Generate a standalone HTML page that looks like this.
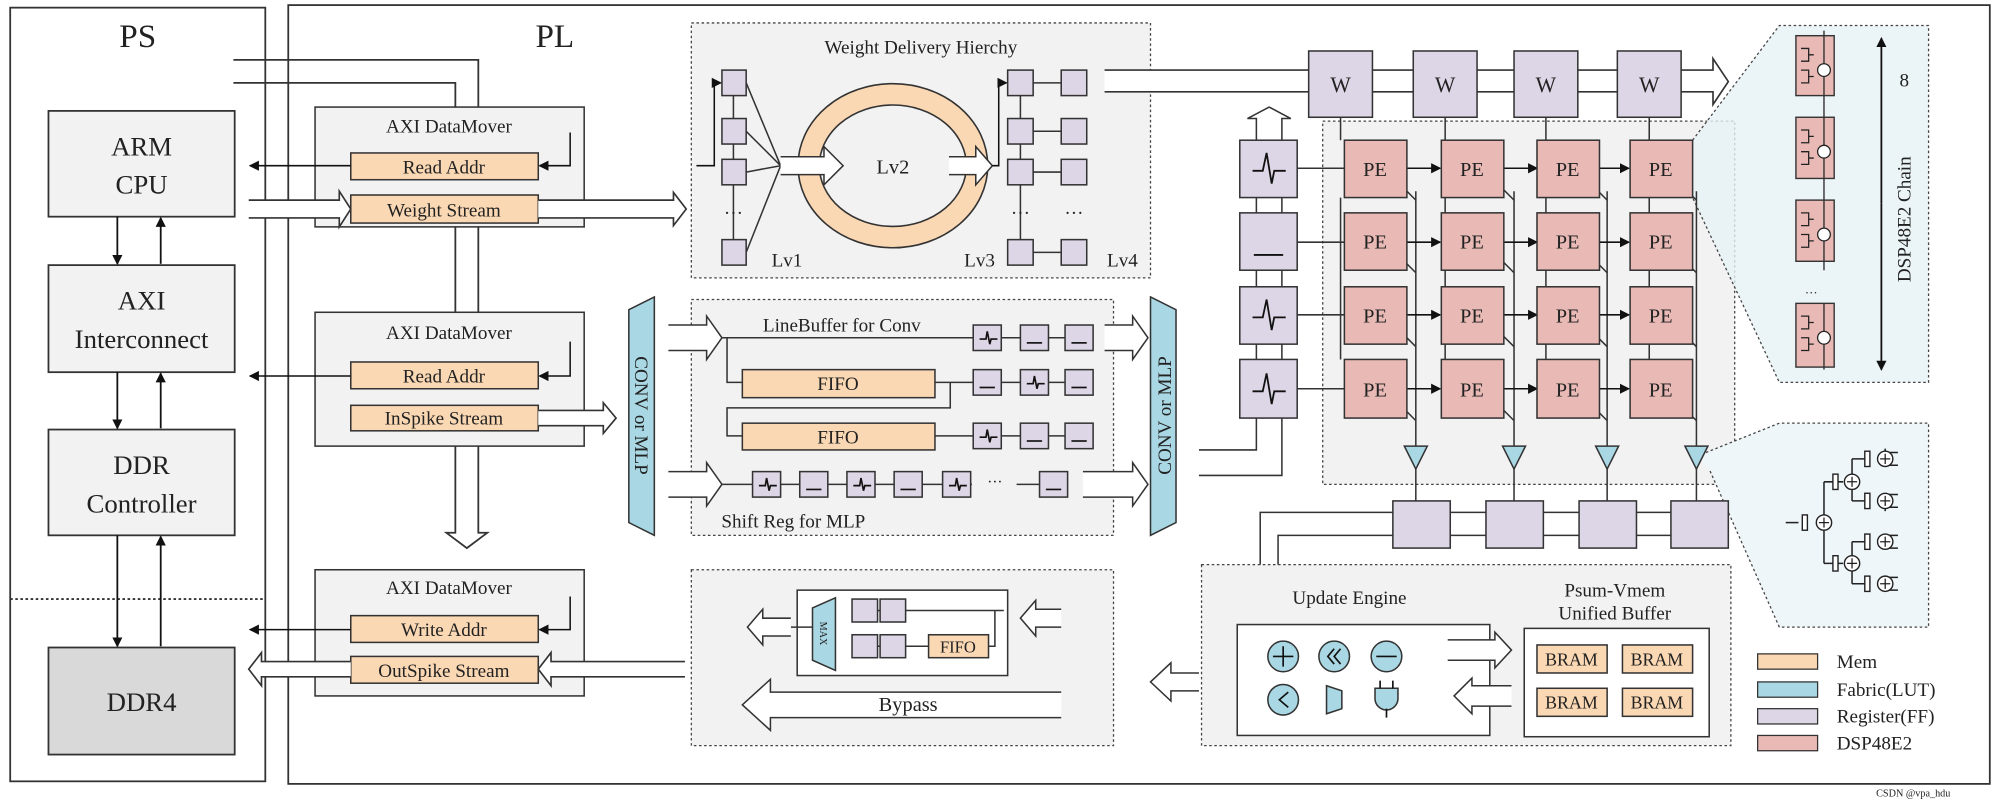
<!DOCTYPE html>
<html><head><meta charset="utf-8"><style>
html,body{margin:0;padding:0;background:#fff;width:2000px;height:803px;overflow:hidden}
svg{display:block}
text{font-family:"Liberation Serif",serif;fill:#222}
</style></head><body>
<svg width="2000" height="803" viewBox="0 0 1568 630" preserveAspectRatio="none" xmlns="http://www.w3.org/2000/svg">
<defs>
<marker id="ah" markerWidth="8" markerHeight="8" refX="7" refY="4" orient="auto" markerUnits="userSpaceOnUse"><path d="M0,0 L8,4 L0,8 z" fill="#111"/></marker>
</defs>
<g stroke="#333" stroke-width="1.4" fill="none">
<!-- PS / PL -->
<rect x="8" y="6" width="200" height="607"/>
<rect x="226" y="4" width="1334" height="611"/>
<line x1="8" y1="470" x2="208" y2="470" stroke-dasharray="2,2"/>
</g>
<text x="108" y="37" font-size="26" text-anchor="middle">PS</text>
<text x="435" y="37" font-size="26" text-anchor="middle">PL</text>

<!-- PS blocks -->
<g stroke="#333" stroke-width="1.4">
<rect x="38" y="87" width="146" height="83" fill="#f2f2f2"/>
<rect x="38" y="208" width="146" height="84" fill="#f2f2f2"/>
<rect x="38" y="337" width="146" height="83" fill="#f2f2f2"/>
<rect x="38" y="508" width="146" height="84" fill="#d9d9d9"/>
</g>
<g font-size="21" text-anchor="middle">
<text x="111" y="122">ARM</text><text x="111" y="152">CPU</text>
<text x="111" y="243">AXI</text><text x="111" y="273">Interconnect</text>
<text x="111" y="372">DDR</text><text x="111" y="402">Controller</text>
<text x="111" y="558">DDR4</text>
</g>
<g stroke="#111" stroke-width="1.4" marker-end="url(#ah)">
<line x1="92" y1="170" x2="92" y2="207"/><line x1="126" y1="207" x2="126" y2="171"/>
<line x1="92" y1="292" x2="92" y2="336"/><line x1="126" y1="336" x2="126" y2="293"/>
<line x1="92" y1="420" x2="92" y2="507"/><line x1="126" y1="507" x2="126" y2="421"/>
</g>

<!-- bus lines top -->
<g stroke="#333" stroke-width="1.4" fill="none">
<polyline points="183,47 375,47 375,84"/>
<polyline points="183,65 357,65 357,84"/>
<line x1="357" y1="178" x2="357" y2="245"/><line x1="375" y1="178" x2="375" y2="245"/>
<polyline points="357,350 357,418 350,418 366,430 382,418 375,418 375,350" fill="#fff"/>
</g>

<!-- DataMovers -->
<g stroke="#333" stroke-width="1.2">
<rect x="247" y="84" width="211" height="94" fill="#f2f2f2"/>
<rect x="247" y="245" width="211" height="105" fill="#f2f2f2"/>
<rect x="247" y="447" width="211" height="99" fill="#f2f2f2"/>
<g fill="#fbd8b4">
<rect x="275" y="120" width="147" height="21"/><rect x="275" y="153" width="147" height="22"/>
<rect x="275" y="284" width="147" height="21"/><rect x="275" y="318" width="147" height="20"/>
<rect x="275" y="483" width="147" height="21"/><rect x="275" y="515" width="147" height="21"/>
</g></g>
<g font-size="15" text-anchor="middle">
<text x="352" y="104">AXI DataMover</text><text x="352" y="266">AXI DataMover</text><text x="352" y="466">AXI DataMover</text>
<text x="348" y="136">Read Addr</text><text x="348" y="170">Weight Stream</text>
<text x="348" y="300">Read Addr</text><text x="348" y="333">InSpike Stream</text>
<text x="348" y="499">Write Addr</text><text x="348" y="531">OutSpike Stream</text>
</g>
<g stroke="#111" stroke-width="1.2" fill="none" marker-end="url(#ah)">
<line x1="275" y1="130" x2="196" y2="130"/><polyline points="447,104 447,130 423,130"/>
<line x1="275" y1="295" x2="196" y2="295"/><polyline points="447,268 447,295 423,295"/>
<line x1="275" y1="494" x2="196" y2="494"/><polyline points="447,468 447,494 423,494"/>
</g>
<!-- hollow arrows -->
<g stroke="#333" stroke-width="1.3" fill="#fff">
<polyline points="195,157 266,157 266,150 275,164 266,178 266,171 195,171"/>
<polyline points="422,157 528,157 528,151 538,164 528,177 528,171 422,171"/>
<polyline points="422,322 473,322 473,316 483,328 473,340 473,334 422,334"/>
<polyline points="537,519 432,519 432,512 422,525 432,538 432,531 537,531"/>
<polyline points="275,519 205,519 205,512 195,525 205,538 205,531 275,531"/>
</g>

<!-- Weight Delivery -->
<rect x="542" y="18" width="360" height="200" fill="#f2f2f2" stroke="#444" stroke-width="1" stroke-dasharray="2,2"/>
<text x="722" y="42" font-size="15" text-anchor="middle">Weight Delivery Hierchy</text>
<ellipse cx="700" cy="130" rx="66" ry="56" fill="none" stroke="#333" stroke-width="18"/>
<ellipse cx="700" cy="130" rx="66" ry="56" fill="none" stroke="#fbd8b4" stroke-width="15.5"/>
<text x="700" y="136" font-size="16" text-anchor="middle">Lv2</text>
<g stroke="#333" stroke-width="1.2">
<line x1="575" y1="65" x2="575" y2="198"/>
<line x1="585" y1="65" x2="612" y2="130"/><line x1="585" y1="103" x2="612" y2="130"/><line x1="585" y1="135" x2="612" y2="130"/><line x1="585" y1="198" x2="612" y2="130"/>
<line x1="800" y1="65" x2="800" y2="198"/>
<line x1="810" y1="65" x2="832" y2="65"/><line x1="810" y1="103" x2="832" y2="103"/><line x1="810" y1="135" x2="832" y2="135"/><line x1="810" y1="198" x2="832" y2="198"/>
<g fill="#ddd6e6">
<rect x="566" y="55" width="19" height="20"/><rect x="566" y="93" width="19" height="20"/><rect x="566" y="125" width="19" height="20"/><rect x="566" y="188" width="19" height="20"/>
<rect x="790" y="55" width="20" height="20"/><rect x="790" y="93" width="20" height="20"/><rect x="790" y="125" width="20" height="20"/><rect x="790" y="188" width="20" height="20"/>
<rect x="832" y="55" width="20" height="20"/><rect x="832" y="93" width="20" height="20"/><rect x="832" y="125" width="20" height="20"/><rect x="832" y="188" width="20" height="20"/>
</g>
<polyline points="612,123 646,123 646,115 661,130 646,145 646,137 612,137" fill="#fff"/>
<polyline points="744,123 765,123 765,115 778,130 765,145 765,137 744,137" fill="#fff"/>
</g>
<g stroke="#111" stroke-width="1.2" fill="none" marker-end="url(#ah)">
<polyline points="546,130 560,130 560,65 565,65"/>
<polyline points="778,130 783,130 783,65 789,65"/>
</g>
<g font-size="15" text-anchor="middle">
<text x="575" y="172">···</text><text x="800" y="172">···</text><text x="842" y="172">···</text>
<text x="617" y="209">Lv1</text><text x="768" y="209">Lv3</text><text x="880" y="209">Lv4</text>
</g>

<!-- W row bus -->
<polyline points="866,55 1343,55 1343,46 1355,64 1343,82 1343,72 866,72" fill="#fff" stroke="#333" stroke-width="1.3"/>
<g stroke="#333" stroke-width="1.2" fill="#ddd6e6">
<rect x="1026" y="40" width="50" height="52"/><rect x="1108" y="40" width="50" height="52"/><rect x="1187" y="40" width="50" height="52"/><rect x="1268" y="40" width="50" height="52"/>
</g>
<g font-size="17" text-anchor="middle"><text x="1051" y="72">W</text><text x="1133" y="72">W</text><text x="1212" y="72">W</text><text x="1293" y="72">W</text></g>

<!-- CONV or MLP trapezoids -->
<g stroke="#333" stroke-width="1.2" fill="#a9d8e4">
<polygon points="493,243 513,233 513,420 493,410"/>
<polygon points="902,233 922,243 922,410 902,420"/>
<polygon points="555,463 575,455 575,580 555,572"/>
<polygon points="838,455 858,463 858,572 838,580"/>
</g>
<text transform="translate(498,326) rotate(90)" font-size="15" text-anchor="middle">CONV or MLP</text>
<text transform="translate(918,326) rotate(-90)" font-size="15" text-anchor="middle">CONV or MLP</text>
<text transform="translate(560,517) rotate(90)" font-size="15" text-anchor="middle">Maxpool En?</text>
<text transform="translate(853,517) rotate(-90)" font-size="15" text-anchor="middle">Maxpool En?</text>

<!-- LineBuffer -->
<rect x="542" y="235" width="331" height="185" fill="#f2f2f2" stroke="#444" stroke-width="1" stroke-dasharray="2,2"/>
<text x="660" y="260" font-size="15" text-anchor="middle">LineBuffer for Conv</text>
<text x="622" y="414" font-size="15" text-anchor="middle">Shift Reg for MLP</text>
<g stroke="#333" stroke-width="1.2" fill="none">
<line x1="564" y1="265" x2="763" y2="265"/>
<polyline points="570,265 570,300 582,300"/>
<line x1="733" y1="300" x2="763" y2="300"/>
<polyline points="745,300 745,320 570,320 570,342 582,342"/>
<line x1="733" y1="342" x2="763" y2="342"/>
<line x1="785" y1="265" x2="835" y2="265"/><line x1="785" y1="300" x2="835" y2="300"/><line x1="785" y1="342" x2="835" y2="342"/>
<line x1="564" y1="380" x2="762" y2="380"/><line x1="797" y1="380" x2="815" y2="380"/>
<polyline points="524,255 554,255 554,248 566,265 554,282 554,275 524,275" fill="#fff"/>
<polyline points="524,370 554,370 554,363 566,380 554,397 554,390 524,390" fill="#fff"/>
<polyline points="866,255 888,255 888,248 900,265 888,282 888,275 866,275" fill="#fff"/>
<polyline points="849,370 888,370 888,363 900,380 888,397 888,390 849,390" fill="#fff"/>
</g>
<g stroke="#333" stroke-width="1.2">
<rect x="582" y="290" width="151" height="22" fill="#fbd8b4"/><rect x="582" y="332" width="151" height="21" fill="#fbd8b4"/>
<g fill="#ddd6e6">
<rect x="763" y="255" width="22" height="20"/><rect x="800" y="255" width="22" height="20"/><rect x="835" y="255" width="22" height="20"/>
<rect x="763" y="290" width="22" height="20"/><rect x="800" y="290" width="22" height="20"/><rect x="835" y="290" width="22" height="20"/>
<rect x="763" y="332" width="22" height="20"/><rect x="800" y="332" width="22" height="20"/><rect x="835" y="332" width="22" height="20"/>
<rect x="590" y="370" width="22" height="20"/><rect x="627" y="370" width="22" height="20"/><rect x="664" y="370" width="22" height="20"/><rect x="701" y="370" width="22" height="20"/><rect x="739" y="370" width="22" height="20"/><rect x="815" y="370" width="22" height="20"/>
</g></g>
<g font-size="15" text-anchor="middle"><text x="657" y="306">FIFO</text><text x="657" y="348">FIFO</text><text x="780" y="382" font-size="12">···</text></g>
<g stroke="#111" stroke-width="1.3" fill="none">
<path d="M768,266 h5 l1,-6 l2,10 l1,-4 h5"/><line x1="805" y1="269" x2="817" y2="269"/><line x1="840" y1="269" x2="852" y2="269"/>
<line x1="768" y1="304" x2="780" y2="304"/><path d="M805,301 h5 l1,-6 l2,10 l1,-4 h5"/><line x1="840" y1="304" x2="852" y2="304"/>
<path d="M768,343 h5 l1,-6 l2,10 l1,-4 h5"/><line x1="805" y1="346" x2="817" y2="346"/><line x1="840" y1="346" x2="852" y2="346"/>
<path d="M595,381 h5 l1,-6 l2,10 l1,-4 h5"/><line x1="632" y1="384" x2="644" y2="384"/><path d="M669,381 h5 l1,-6 l2,10 l1,-4 h5"/><line x1="706" y1="384" x2="718" y2="384"/><path d="M744,381 h5 l1,-6 l2,10 l1,-4 h5"/><line x1="820" y1="384" x2="832" y2="384"/>
</g>

<!-- Maxpool -->
<rect x="542" y="447" width="331" height="138" fill="#f2f2f2" stroke="#444" stroke-width="1" stroke-dasharray="2,2"/>
<rect x="625" y="463" width="165" height="67" fill="#fff" stroke="#333" stroke-width="1.2"/>
<g stroke="#333" stroke-width="1.2">
<line x1="620" y1="492" x2="637" y2="492"/>
<line x1="710" y1="479" x2="787" y2="479"/><polyline points="775,507 780,507 780,479" fill="none"/>
<line x1="688" y1="479" x2="690" y2="479"/><line x1="688" y1="507" x2="690" y2="507"/><line x1="710" y1="507" x2="728" y2="507"/>
<polygon points="637,477 655,469 655,526 637,518" fill="#a9d8e4"/>
<g fill="#ddd6e6"><rect x="668" y="470" width="20" height="18"/><rect x="690" y="470" width="20" height="18"/><rect x="668" y="498" width="20" height="18"/><rect x="690" y="498" width="20" height="18"/></g>
<rect x="728" y="498" width="47" height="18" fill="#fbd8b4"/>
<polyline points="620,485 598,485 598,478 586,492 598,506 598,499 620,499" fill="#fff"/>
<polyline points="832,478 812,478 812,471 800,485 812,499 812,492 832,492" fill="#fff"/>
<polyline points="832,543 604,543 604,533 582,553 604,573 604,563 832,563" fill="#fff"/>
<polyline points="940,528 918,528 918,520 902,535 918,550 918,542 940,542" fill="#fff"/>
</g>
<text transform="translate(643,497) rotate(90)" font-size="8" text-anchor="middle">MAX</text>
<text x="751" y="512" font-size="13" text-anchor="middle">FIFO</text>
<text x="712" y="558" font-size="16" text-anchor="middle">Bypass</text>

<!-- PE array -->
<rect x="1037" y="95" width="323" height="285" fill="#f2f2f2" stroke="#444" stroke-width="1" stroke-dasharray="2,2"/>
<polygon points="1327,110 1395,20 1512,20 1512,300 1395,300 1327,155" fill="#e6f1f5" opacity="0.8"/>
<polyline points="1327,110 1395,20 1512,20 1512,300 1395,300 1327,155" fill="none" stroke="#444" stroke-width="1" stroke-dasharray="2,2"/>
<polygon points="1330,358 1395,332 1512,332 1512,492 1395,492 1340,368" fill="#eef6f9"/>
<polyline points="1330,358 1395,332 1512,332 1512,492 1395,492 1340,368" fill="none" stroke="#444" stroke-width="1" stroke-dasharray="2,2"/>
<g stroke="#333" stroke-width="1.2" fill="none">
<line x1="1051" y1="92" x2="1051" y2="110"/><line x1="1133" y1="92" x2="1133" y2="110"/><line x1="1212" y1="92" x2="1212" y2="110"/><line x1="1293" y1="92" x2="1293" y2="110"/>
<line x1="1051" y1="155" x2="1051" y2="282"/><line x1="1133" y1="155" x2="1133" y2="282"/><line x1="1212" y1="155" x2="1212" y2="282"/><line x1="1293" y1="155" x2="1293" y2="282"/>
<line x1="1017" y1="132" x2="1054" y2="132"/><line x1="1017" y1="190" x2="1054" y2="190"/><line x1="1017" y1="247" x2="1054" y2="247"/><line x1="1017" y1="305" x2="1054" y2="305"/>
<line x1="985" y1="155" x2="985" y2="167"/><line x1="1005" y1="155" x2="1005" y2="167"/><line x1="985" y1="212" x2="985" y2="225"/><line x1="1005" y1="212" x2="1005" y2="225"/><line x1="985" y1="270" x2="985" y2="282"/><line x1="1005" y1="270" x2="1005" y2="282"/>
<polyline points="940,353 985,353 985,328"/><polyline points="940,373 1005,373 1005,328"/>
<polyline points="985,110 985,93 978,93 995,84 1012,93 1005,93 1005,110" fill="#fff"/>
<!-- diagonals & columns -->
<g>
<line x1="1110" y1="150" x2="1110" y2="350"/><line x1="1187" y1="150" x2="1187" y2="350"/><line x1="1260" y1="150" x2="1260" y2="350"/><line x1="1330" y1="150" x2="1330" y2="350"/>
<path d="M1098,145 l12,12 M1098,202 l12,12 M1098,260 l12,12 M1098,318 l12,12"/>
<path d="M1175,145 l12,12 M1175,202 l12,12 M1175,260 l12,12 M1175,318 l12,12"/>
<path d="M1248,145 l12,12 M1248,202 l12,12 M1248,260 l12,12 M1248,318 l12,12"/>
<path d="M1318,145 l12,12 M1318,202 l12,12 M1318,260 l12,12 M1318,318 l12,12"/>
<line x1="1110" y1="368" x2="1110" y2="393"/><line x1="1187" y1="368" x2="1187" y2="393"/><line x1="1260" y1="368" x2="1260" y2="393"/><line x1="1330" y1="368" x2="1330" y2="393"/>
</g>
<line x1="1137" y1="402" x2="1165" y2="402"/><line x1="1137" y1="420" x2="1165" y2="420"/><line x1="1210" y1="402" x2="1238" y2="402"/><line x1="1210" y1="420" x2="1238" y2="420"/><line x1="1283" y1="402" x2="1310" y2="402"/><line x1="1283" y1="420" x2="1310" y2="420"/>
<polyline points="1092,402 988,402 988,445 982,445 995,457 1008,445 1002,445 1002,420 1092,420" fill="#fff"/>
</g>
<g stroke="#111" stroke-width="1.2" marker-end="url(#ah)">
<line x1="1103" y1="132" x2="1129" y2="132"/><line x1="1179" y1="132" x2="1205" y2="132"/><line x1="1254" y1="132" x2="1277" y2="132"/>
<line x1="1103" y1="190" x2="1129" y2="190"/><line x1="1179" y1="190" x2="1205" y2="190"/><line x1="1254" y1="190" x2="1277" y2="190"/>
<line x1="1103" y1="247" x2="1129" y2="247"/><line x1="1179" y1="247" x2="1205" y2="247"/><line x1="1254" y1="247" x2="1277" y2="247"/>
<line x1="1103" y1="305" x2="1129" y2="305"/><line x1="1179" y1="305" x2="1205" y2="305"/><line x1="1254" y1="305" x2="1277" y2="305"/>
</g>
<g stroke="#333" stroke-width="1.2" fill="#e8b9b5">
<rect x="1054" y="110" width="49" height="45"/><rect x="1130" y="110" width="49" height="45"/><rect x="1205" y="110" width="49" height="45"/><rect x="1278" y="110" width="49" height="45"/>
<rect x="1054" y="167" width="49" height="45"/><rect x="1130" y="167" width="49" height="45"/><rect x="1205" y="167" width="49" height="45"/><rect x="1278" y="167" width="49" height="45"/>
<rect x="1054" y="225" width="49" height="45"/><rect x="1130" y="225" width="49" height="45"/><rect x="1205" y="225" width="49" height="45"/><rect x="1278" y="225" width="49" height="45"/>
<rect x="1054" y="282" width="49" height="46"/><rect x="1130" y="282" width="49" height="46"/><rect x="1205" y="282" width="49" height="46"/><rect x="1278" y="282" width="49" height="46"/>
</g>
<g font-size="16" text-anchor="middle">
<text x="1078" y="138">PE</text><text x="1154" y="138">PE</text><text x="1229" y="138">PE</text><text x="1302" y="138">PE</text>
<text x="1078" y="195">PE</text><text x="1154" y="195">PE</text><text x="1229" y="195">PE</text><text x="1302" y="195">PE</text>
<text x="1078" y="253">PE</text><text x="1154" y="253">PE</text><text x="1229" y="253">PE</text><text x="1302" y="253">PE</text>
<text x="1078" y="311">PE</text><text x="1154" y="311">PE</text><text x="1229" y="311">PE</text><text x="1302" y="311">PE</text>
</g>
<g stroke="#333" stroke-width="1.2" fill="#ddd6e6">
<rect x="972" y="110" width="45" height="45"/><rect x="972" y="167" width="45" height="45"/><rect x="972" y="225" width="45" height="45"/><rect x="972" y="282" width="45" height="46"/>
<rect x="1092" y="393" width="45" height="37"/><rect x="1165" y="393" width="45" height="37"/><rect x="1238" y="393" width="45" height="37"/><rect x="1310" y="393" width="45" height="37"/>
</g>
<g stroke="#111" stroke-width="1.4" fill="none">
<path d="M982,134 h8 l3,-14 l4,24 l2,-10 h9"/><line x1="983" y1="200" x2="1006" y2="200"/>
<path d="M982,249 h8 l3,-14 l4,24 l2,-10 h9"/><path d="M982,307 h8 l3,-14 l4,24 l2,-10 h9"/>
</g>
<g stroke="#333" stroke-width="1.2" fill="#a9d8e4">
<polygon points="1101,350 1119,350 1110,368"/><polygon points="1178,350 1196,350 1187,368"/><polygon points="1251,350 1269,350 1260,368"/><polygon points="1321,350 1339,350 1330,368"/>
</g>

<!-- DSP chain -->
<g stroke="#333" stroke-width="1.1">
<g fill="#e8b9b5"><rect x="1408" y="28" width="30" height="47"/><rect x="1408" y="92" width="30" height="48"/><rect x="1408" y="157" width="30" height="48"/><rect x="1408" y="238" width="30" height="50"/></g>
<line x1="1430" y1="24" x2="1430" y2="212"/><line x1="1430" y1="238" x2="1430" y2="290"/>
</g>
<g stroke="#222" stroke-width="1" fill="none">
<path d="M1412,38 h6 v10 h-6 M1418,43 h4 M1412,55 h6 v10 h-6 M1418,60 h4"/><circle cx="1430" cy="55" r="5" fill="#fff"/>
<path d="M1412,102 h6 v10 h-6 M1418,107 h4 M1412,119 h6 v10 h-6 M1418,124 h4"/><circle cx="1430" cy="119" r="5" fill="#fff"/>
<path d="M1412,167 h6 v10 h-6 M1418,172 h4 M1412,184 h6 v10 h-6 M1418,189 h4"/><circle cx="1430" cy="184" r="5" fill="#fff"/>
<path d="M1412,248 h6 v10 h-6 M1418,253 h4 M1412,265 h6 v10 h-6 M1418,270 h4"/><circle cx="1430" cy="265" r="5" fill="#fff"/>
</g>
<text x="1420" y="233" font-size="10" text-anchor="middle">···</text>
<g stroke="#111" stroke-width="1.4" marker-end="url(#ah)"><line x1="1475" y1="160" x2="1475" y2="30"/><line x1="1475" y1="160" x2="1475" y2="290"/></g>
<text x="1493" y="68" font-size="15" text-anchor="middle">8</text>
<text transform="translate(1498,172) rotate(-90)" font-size="15" text-anchor="middle">DSP48E2 Chain</text>

<!-- adder tree -->
<g stroke="#222" stroke-width="1.2" fill="none">
<line x1="1400" y1="410" x2="1410" y2="410"/>
<polyline points="1430,378 1430,442"/><polyline points="1430,378 1445,378"/><polyline points="1430,442 1445,442"/>
<polyline points="1452,360 1452,393"/><polyline points="1452,360 1465,360"/><polyline points="1452,393 1465,393"/>
<polyline points="1452,425 1452,458"/><polyline points="1452,425 1465,425"/><polyline points="1452,458 1465,458"/>
<path d="M1478,355 h10 M1478,365 h10 M1478,388 h10 M1478,398 h10 M1478,420 h10 M1478,430 h10 M1478,453 h10 M1478,463 h10"/>
<path d="M1478,355 v-3 M1478,398 v3"/>
</g>
<g stroke="#222" stroke-width="1.1" fill="#fff">
<rect x="1413" y="404" width="4" height="12"/><circle cx="1430" cy="410" r="6"/>
<rect x="1437" y="372" width="4" height="12"/><circle cx="1452" cy="378" r="6"/>
<rect x="1437" y="436" width="4" height="12"/><circle cx="1452" cy="442" r="6"/>
<rect x="1462" y="354" width="4" height="12"/><circle cx="1478" cy="360" r="6"/>
<rect x="1462" y="387" width="4" height="12"/><circle cx="1478" cy="393" r="6"/>
<rect x="1462" y="419" width="4" height="12"/><circle cx="1478" cy="425" r="6"/>
<rect x="1462" y="452" width="4" height="12"/><circle cx="1478" cy="458" r="6"/>
</g>
<g stroke="#222" stroke-width="1" font-size="10">
<path d="M1426,410 h8 M1430,406 v8 M1448,378 h8 M1452,374 v8 M1448,442 h8 M1452,438 v8 M1474,360 h8 M1478,356 v8 M1474,393 h8 M1478,389 v8 M1474,425 h8 M1478,421 v8 M1474,458 h8 M1478,454 v8"/>
</g>

<!-- Update engine -->
<rect x="942" y="443" width="415" height="142" fill="#f2f2f2" stroke="#444" stroke-width="1" stroke-dasharray="2,2"/>
<text x="1058" y="474" font-size="15" text-anchor="middle">Update Engine</text>
<text x="1266" y="468" font-size="15" text-anchor="middle">Psum-Vmem</text>
<text x="1266" y="486" font-size="15" text-anchor="middle">Unified Buffer</text>
<g stroke="#333" stroke-width="1.2">
<rect x="970" y="490" width="198" height="87" fill="#fff"/>
<rect x="1195" y="493" width="145" height="85" fill="#fff"/>
<g fill="#fbd8b4"><rect x="1205" y="506" width="55" height="22"/><rect x="1272" y="506" width="55" height="22"/><rect x="1205" y="540" width="55" height="22"/><rect x="1272" y="540" width="55" height="22"/></g>
<polyline points="1135,502 1172,502 1172,496 1185,510 1172,524 1172,518 1135,518" fill="#fff"/>
<polyline points="1185,538 1154,538 1154,532 1140,546 1154,560 1154,554 1185,554" fill="#fff"/>
<g fill="#a9d8e4">
<circle cx="1006" cy="515" r="12"/><circle cx="1046" cy="515" r="12"/><circle cx="1087" cy="515" r="12"/><circle cx="1006" cy="549" r="12"/>
<polygon points="1040,538 1052,542 1052,556 1040,560"/>
<path d="M1078,540 h18 v8 a9,9 0 0 1 -18,0 z"/>
</g>
</g>
<g stroke="#111" stroke-width="1.3" fill="none">
<path d="M998,515 h16 M1006,507 v16 M1079,515 h16 M1010,543 l-7,6 l7,6 M1046,509 l-5,6 l5,6 M1051,509 l-5,6 l5,6 M1082,534 v6 M1092,534 v6 M1087,556 v7"/>
</g>
<g font-size="14" text-anchor="middle"><text x="1232" y="522">BRAM</text><text x="1299" y="522">BRAM</text><text x="1232" y="556">BRAM</text><text x="1299" y="556">BRAM</text></g>

<!-- legend -->
<g stroke="#333" stroke-width="1">
<rect x="1378" y="513" width="47" height="12" fill="#fbd8b4"/><rect x="1378" y="535" width="47" height="12" fill="#a9d8e4"/><rect x="1378" y="556" width="47" height="12" fill="#ddd6e6"/><rect x="1378" y="577" width="47" height="12" fill="#e8b9b5"/>
</g>
<g font-size="15"><text x="1440" y="524">Mem</text><text x="1440" y="546">Fabric(LUT)</text><text x="1440" y="567">Register(FF)</text><text x="1440" y="588">DSP48E2</text></g>
<text x="1500" y="625" font-size="8" fill="#aaa" text-anchor="middle">CSDN @vpa_hdu</text>
</svg>
</body></html>
